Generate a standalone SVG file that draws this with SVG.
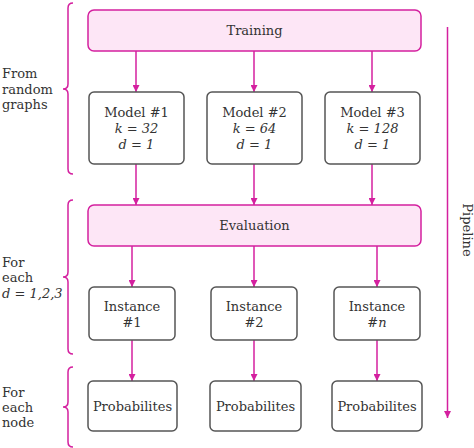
<svg xmlns="http://www.w3.org/2000/svg" width="474" height="448" viewBox="0 0 474 448">
<defs>
<marker id="ah" viewBox="0 0 10 10" refX="10" refY="5" markerWidth="7" markerHeight="7" markerUnits="userSpaceOnUse" orient="auto">
<path d="M0,0 L10,5 L0,10 Z" fill="#d4209f"/>
</marker>
</defs>
<style>
text{font-family:"DejaVu Serif",serif;font-size:13px;fill:#333}
.c{text-anchor:middle}
.i{font-style:italic}
.stage{fill:#fde6f6;stroke:#d4209f;stroke-width:1.5}
.node{fill:#fff;stroke:#555;stroke-width:1.5}
.conn line{stroke:#d4209f;stroke-width:1.5;marker-end:url(#ah)}
.brace{fill:none;stroke:#d4209f;stroke-width:1.5}
</style>
<rect width="474" height="448" fill="#fff"/>

<g id="braces">
<path class="brace" d="M73,3 Q68,3 68,8 L68,84 Q68,89 63,89 Q68,89 68,94 L68,169 Q68,174 73,174"/>
<path class="brace" d="M73,200 Q68,200 68,205 L68,272 Q68,277 63,277 Q68,277 68,282 L68,349 Q68,354 73,354"/>
<path class="brace" d="M73,367 Q68,367 68,372 L68,402 Q68,407 63,407 Q68,407 68,412 L68,442 Q68,447 73,447"/>
</g>

<g id="labels">
<text x="2" y="78">From</text>
<text x="2" y="93.5">random</text>
<text x="2" y="109">graphs</text>
<text x="2" y="266.5">For</text>
<text x="2" y="282">each</text>
<text x="2" y="297.5"><tspan class="i">d</tspan> = <tspan class="i">1,2,3</tspan></text>
<text x="2" y="396.5">For</text>
<text x="2" y="411.5">each</text>
<text x="2" y="427">node</text>
</g>

<g class="conn" id="connectors">
<line x1="136" y1="51" x2="136" y2="92"/>
<line x1="254" y1="51" x2="254" y2="92"/>
<line x1="372" y1="51" x2="372" y2="92"/>
<line x1="136" y1="164" x2="136" y2="205"/>
<line x1="254" y1="164" x2="254" y2="205"/>
<line x1="372" y1="164" x2="372" y2="205"/>
<line x1="132" y1="246" x2="132" y2="287"/>
<line x1="254" y1="246" x2="254" y2="287"/>
<line x1="377" y1="246" x2="377" y2="287"/>
<line x1="132" y1="340" x2="132" y2="381"/>
<line x1="254" y1="340" x2="254" y2="381"/>
<line x1="377" y1="340" x2="377" y2="381"/>
<line x1="447.5" y1="27" x2="447.5" y2="418"/>
</g>

<g id="training">
<rect class="stage" x="88" y="10" width="333" height="41" rx="6"/>
<text class="c" x="254.5" y="35">Training</text>
</g>
<g id="model1">
<rect class="node" x="89" y="92" width="95" height="72" rx="5"/>
<text class="c" x="136.5" y="117">Model #1</text>
<text class="c" x="136.5" y="132.5"><tspan class="i">k</tspan> = <tspan class="i">32</tspan></text>
<text class="c" x="136.5" y="148.5"><tspan class="i">d</tspan> = <tspan class="i">1</tspan></text>
</g>
<g id="model2">
<rect class="node" x="207" y="92" width="95" height="72" rx="5"/>
<text class="c" x="254.5" y="117">Model #2</text>
<text class="c" x="254.5" y="132.5"><tspan class="i">k</tspan> = <tspan class="i">64</tspan></text>
<text class="c" x="254.5" y="148.5"><tspan class="i">d</tspan> = <tspan class="i">1</tspan></text>
</g>
<g id="model3">
<rect class="node" x="325" y="92" width="95" height="72" rx="5"/>
<text class="c" x="372.5" y="117">Model #3</text>
<text class="c" x="372.5" y="132.5"><tspan class="i">k</tspan> = <tspan class="i">128</tspan></text>
<text class="c" x="372.5" y="148.5"><tspan class="i">d</tspan> = <tspan class="i">1</tspan></text>
</g>
<g id="evaluation">
<rect class="stage" x="88" y="205" width="333" height="41" rx="6"/>
<text class="c" x="254.5" y="230">Evaluation</text>
</g>
<g id="instance1">
<rect class="node" x="89" y="287" width="86" height="53" rx="5"/>
<text class="c" x="132" y="310.5">Instance</text>
<text class="c" x="132" y="326.5">#1</text>
</g>
<g id="instance2">
<rect class="node" x="211" y="287" width="86" height="53" rx="5"/>
<text class="c" x="254" y="310.5">Instance</text>
<text class="c" x="254" y="326.5">#2</text>
</g>
<g id="instancen">
<rect class="node" x="334" y="287" width="86" height="53" rx="5"/>
<text class="c" x="377" y="310.5">Instance</text>
<text class="c" x="377" y="326.5">#<tspan class="i">n</tspan></text>
</g>
<g id="prob1">
<rect class="node" x="88" y="381" width="89" height="50" rx="5"/>
<text class="c" x="132.5" y="410.5">Probabilites</text>
</g>
<g id="prob2">
<rect class="node" x="210" y="381" width="91" height="50" rx="5"/>
<text class="c" x="255.5" y="410.5">Probabilites</text>
</g>
<g id="prob3">
<rect class="node" x="332" y="381" width="90" height="50" rx="5"/>
<text class="c" x="377" y="410.5">Probabilites</text>
</g>
<g id="pipeline">
<text class="c" transform="translate(463,230) rotate(90)">Pipeline</text>
</g>
</svg>
